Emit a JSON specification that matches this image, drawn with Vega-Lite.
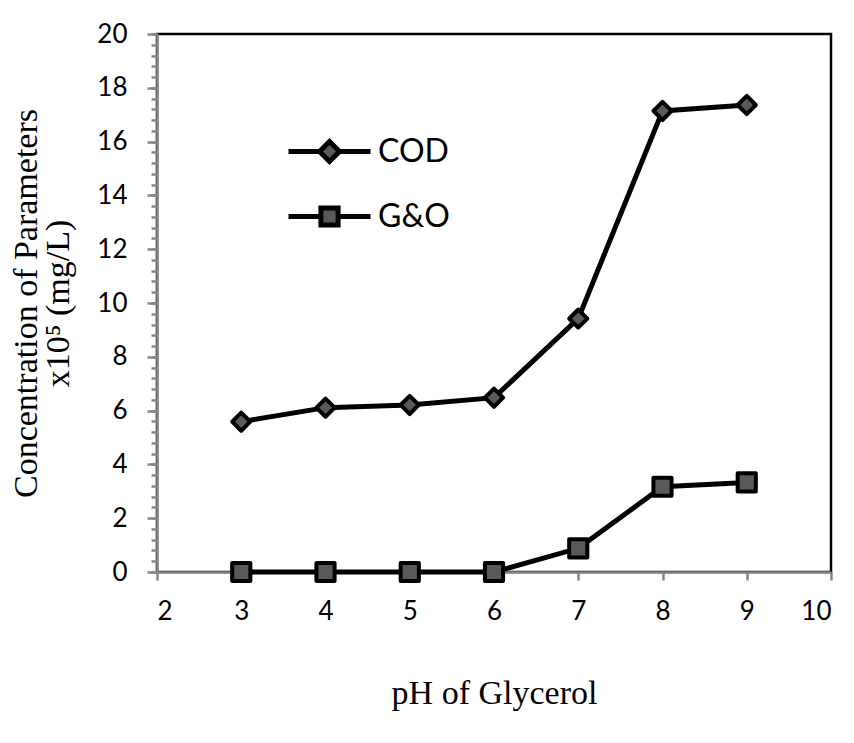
{
  "$schema": "https://vega.github.io/schema/vega-lite/v6.json",
  "width": 674,
  "height": 538,
  "autosize": {"type": "none"},
  "padding": {"left": 157, "top": 34, "right": 23, "bottom": 171},
  "config": {
    "view": {"stroke": "black", "strokeWidth": 2.5},
    "axis": {
      "grid": false,
      "domainColor": "#868686",
      "domainWidth": 2.5,
      "tickColor": "#868686",
      "tickWidth": 2.5,
      "labelColor": "black",
      "labelFont": "Lato",
      "labelFontSize": 26,
      "titleColor": "black",
      "titleFont": "Liberation Serif",
      "titleFontWeight": "normal",
      "titleFontSize": 34
    }
  },
  "data": {
    "values": [
      {"pH": 3, "value": 5.59, "series": "COD"},
      {"pH": 4, "value": 6.11, "series": "COD"},
      {"pH": 5, "value": 6.21, "series": "COD"},
      {"pH": 6, "value": 6.48, "series": "COD"},
      {"pH": 7, "value": 9.42, "series": "COD"},
      {"pH": 8, "value": 17.14, "series": "COD"},
      {"pH": 9, "value": 17.36, "series": "COD"},
      {"pH": 3, "value": 0, "series": "G&O"},
      {"pH": 4, "value": 0, "series": "G&O"},
      {"pH": 5, "value": 0, "series": "G&O"},
      {"pH": 6, "value": 0, "series": "G&O"},
      {"pH": 7, "value": 0.88, "series": "G&O"},
      {"pH": 8, "value": 3.17, "series": "G&O"},
      {"pH": 9, "value": 3.33, "series": "G&O"}
    ]
  },
  "encoding": {
    "x": {
      "field": "pH",
      "type": "quantitative",
      "scale": {"domain": [2, 10], "nice": false, "zero": false},
      "axis": {
        "values": [2, 3, 4, 5, 6, 7, 8, 9, 10],
        "tickSize": 8,
        "labelPadding": 18,
        "title": "pH of Glycerol",
        "titlePadding": 52
      }
    }
  },
  "layer": [
    {
      "mark": {"type": "line", "color": "black", "strokeWidth": 5},
      "encoding": {
        "y": {
          "field": "value",
          "type": "quantitative",
          "scale": {"domain": [0, 20], "nice": false},
          "axis": {
            "orient": "left",
            "values": [0, 2, 4, 6, 8, 10, 12, 14, 16, 18, 20],
            "tickSize": 10,
            "labelPadding": 20,
            "title": ["Concentration of Parameters", "x10\u2075 (mg/L)"],
            "titleLineHeight": 32,
            "titlePadding": 21
          }
        },
        "detail": {"field": "series"}
      }
    },
    {
      "mark": {
        "type": "point",
        "filled": true,
        "fill": "#595959",
        "stroke": "black",
        "strokeWidth": 4,
        "strokeJoin": "round",
        "opacity": 1,
        "size": 330
      },
      "encoding": {
        "y": {
          "field": "value",
          "type": "quantitative",
          "scale": {"domain": [0, 20], "nice": false},
          "axis": {
            "orient": "left",
            "values": [0, 0.4, 0.8, 1.2, 1.6, 2, 2.4, 2.8, 3.2, 3.6, 4, 4.4, 4.8, 5.2, 5.6, 6, 6.4, 6.8, 7.2, 7.6, 8, 8.4, 8.8, 9.2, 9.6, 10, 10.4, 10.8, 11.2, 11.6, 12, 12.4, 12.8, 13.2, 13.6, 14, 14.4, 14.8, 15.2, 15.6, 16, 16.4, 16.8, 17.2, 17.6, 18, 18.4, 18.8, 19.2, 19.6, 20],
            "tickSize": 6,
            "labels": false,
            "domain": false,
            "title": null
          }
        },
        "shape": {
          "field": "series",
          "type": "nominal",
          "scale": {"domain": ["COD", "G&O"], "range": ["diamond", "square"]},
          "legend": null
        }
      }
    },
    {
      "mark": {
        "type": "point",
        "filled": true,
        "fill": "#595959",
        "strokeWidth": 5,
        "strokeJoin": "round",
        "opacity": 0,
        "size": 1600
      },
      "encoding": {
        "y": {
          "field": "value",
          "type": "quantitative",
          "scale": {"domain": [0, 20], "nice": false},
          "axis": null
        },
        "stroke": {
          "field": "series",
          "type": "nominal",
          "scale": {"domain": ["COD", "G&O"], "range": ["black", "black"]},
          "legend": {
            "title": null,
            "orient": "none",
            "legendX": 150,
            "legendY": 95,
            "symbolSize": 1600,
            "symbolOpacity": 1,
            "symbolStrokeWidth": 5,
            "symbolFillColor": "#595959",
            "labelFont": "Lato",
            "labelFontSize": 32,
            "labelColor": "black",
            "labelOffset": 26,
            "rowPadding": 22,
            "padding": 0
          }
        },
        "shape": {
          "field": "series",
          "type": "nominal",
          "scale": {
            "domain": ["COD", "G&O"],
            "range": [
              "M-2.05,0L-0.5,0M0.5,0L2.05,0M0,-0.5L0.5,0L0,0.5L-0.5,0Z",
              "M-2.05,0L-0.43,0M0.43,0L2.05,0M-0.43,-0.43L0.43,-0.43L0.43,0.43L-0.43,0.43Z"
            ]
          },
          "legend": {
            "title": null,
            "orient": "none",
            "legendX": 150,
            "legendY": 95,
            "symbolSize": 1600,
            "symbolOpacity": 1,
            "symbolStrokeWidth": 5,
            "symbolFillColor": "#595959",
            "labelFont": "Lato",
            "labelFontSize": 32,
            "labelColor": "black",
            "labelOffset": 26,
            "rowPadding": 22,
            "padding": 0
          }
        }
      }
    }
  ],
  "resolve": {"axis": {"y": "independent"}, "scale": {"shape": "independent", "stroke": "independent"}}
}
